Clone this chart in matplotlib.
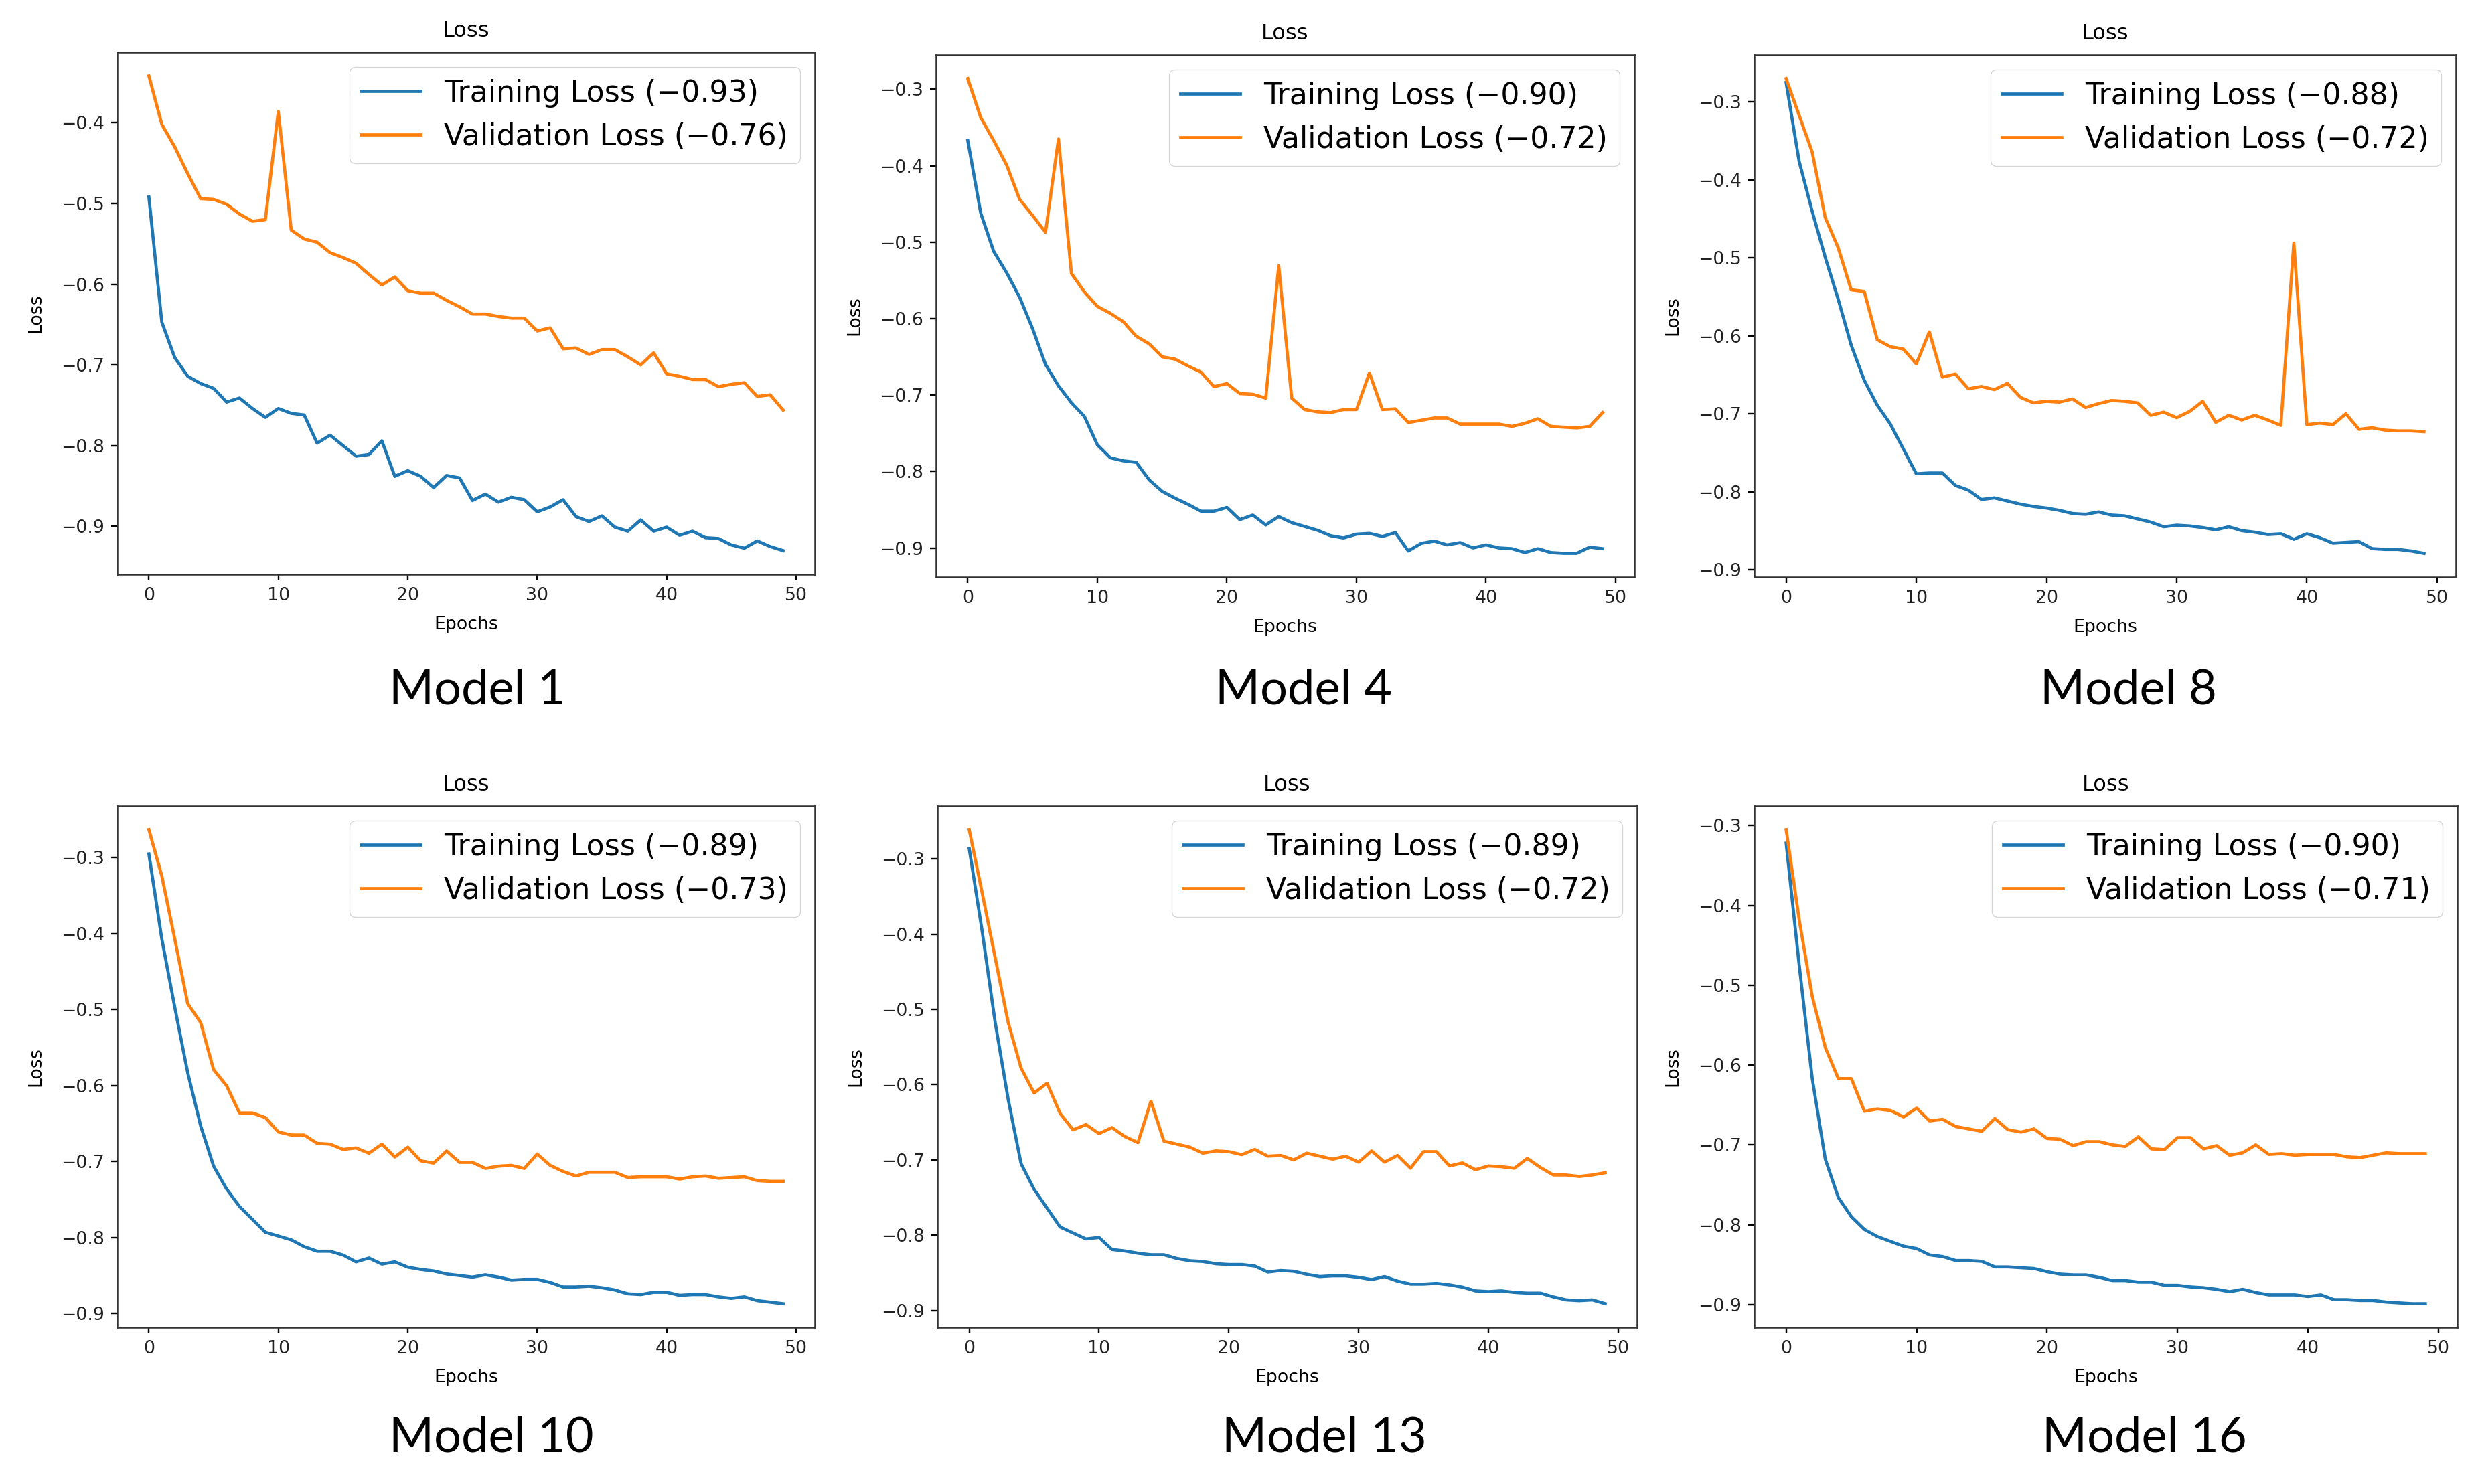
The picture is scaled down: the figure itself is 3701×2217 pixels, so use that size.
import numpy as np
import matplotlib
matplotlib.use("Agg")
import matplotlib.pyplot as plt

# Loss curves (50 epochs each)
epochs = np.arange(50)

model_names = ["Model 1", "Model 4", "Model 8", "Model 10", "Model 13", "Model 16"]

train_m1 = [-0.492, -0.647, -0.691, -0.714, -0.723, -0.729, -0.746, -0.741, -0.754, -0.765,
            -0.754, -0.760, -0.762, -0.797, -0.787, -0.800, -0.813, -0.811, -0.794, -0.838,
            -0.831, -0.838, -0.852, -0.837, -0.840, -0.868, -0.860, -0.870, -0.864, -0.867,
            -0.882, -0.876, -0.867, -0.888, -0.894, -0.887, -0.901, -0.906, -0.892, -0.906,
            -0.901, -0.911, -0.906, -0.914, -0.915, -0.923, -0.927, -0.918, -0.925, -0.930]
val_m1 = [-0.342, -0.402, -0.430, -0.463, -0.494, -0.495, -0.501, -0.513, -0.522, -0.520,
          -0.386, -0.533, -0.544, -0.548, -0.561, -0.567, -0.574, -0.588, -0.601, -0.591,
          -0.608, -0.611, -0.611, -0.620, -0.628, -0.637, -0.637, -0.640, -0.642, -0.642,
          -0.658, -0.654, -0.680, -0.679, -0.687, -0.681, -0.681, -0.690, -0.700, -0.685,
          -0.711, -0.714, -0.718, -0.718, -0.727, -0.724, -0.722, -0.739, -0.737, -0.756]

train_m4 = [-0.367, -0.462, -0.512, -0.540, -0.572, -0.613, -0.660, -0.688, -0.710, -0.728,
            -0.765, -0.782, -0.786, -0.788, -0.811, -0.826, -0.835, -0.843, -0.852, -0.852,
            -0.847, -0.863, -0.857, -0.870, -0.859, -0.867, -0.872, -0.877, -0.884, -0.887,
            -0.882, -0.881, -0.885, -0.880, -0.904, -0.894, -0.891, -0.896, -0.893, -0.900,
            -0.896, -0.900, -0.901, -0.906, -0.901, -0.906, -0.907, -0.907, -0.899, -0.901]
val_m4 = [-0.286, -0.337, -0.367, -0.399, -0.444, -0.465, -0.487, -0.365, -0.541, -0.565,
          -0.584, -0.593, -0.604, -0.623, -0.633, -0.650, -0.653, -0.662, -0.670, -0.689,
          -0.685, -0.698, -0.699, -0.704, -0.531, -0.704, -0.719, -0.722, -0.723, -0.719,
          -0.719, -0.671, -0.719, -0.718, -0.736, -0.733, -0.730, -0.730, -0.738, -0.738,
          -0.738, -0.738, -0.741, -0.737, -0.731, -0.741, -0.742, -0.743, -0.741, -0.723]

train_m8 = [-0.275, -0.376, -0.440, -0.499, -0.553, -0.612, -0.657, -0.689, -0.713, -0.745,
            -0.777, -0.776, -0.776, -0.792, -0.798, -0.810, -0.808, -0.812, -0.816, -0.819,
            -0.821, -0.824, -0.828, -0.829, -0.826, -0.830, -0.831, -0.835, -0.839, -0.845,
            -0.843, -0.844, -0.846, -0.849, -0.845, -0.850, -0.852, -0.855, -0.854, -0.861,
            -0.854, -0.859, -0.866, -0.865, -0.864, -0.873, -0.874, -0.874, -0.876, -0.879]
val_m8 = [-0.270, -0.317, -0.364, -0.448, -0.487, -0.541, -0.543, -0.605, -0.614, -0.617,
          -0.636, -0.595, -0.653, -0.649, -0.668, -0.665, -0.669, -0.661, -0.679, -0.686,
          -0.684, -0.685, -0.681, -0.692, -0.687, -0.683, -0.684, -0.686, -0.702, -0.698,
          -0.705, -0.697, -0.684, -0.711, -0.702, -0.708, -0.702, -0.708, -0.715, -0.481,
          -0.714, -0.712, -0.714, -0.700, -0.720, -0.718, -0.721, -0.722, -0.722, -0.723]

train_m10 = [-0.295, -0.407, -0.497, -0.583, -0.653, -0.706, -0.736, -0.759, -0.776, -0.793,
             -0.798, -0.803, -0.812, -0.818, -0.818, -0.823, -0.832, -0.827, -0.835, -0.832,
             -0.839, -0.842, -0.844, -0.848, -0.850, -0.852, -0.849, -0.852, -0.856, -0.855,
             -0.855, -0.859, -0.865, -0.865, -0.864, -0.866, -0.869, -0.874, -0.875, -0.872,
             -0.872, -0.876, -0.875, -0.875, -0.878, -0.880, -0.878, -0.883, -0.885, -0.887]
val_m10 = [-0.263, -0.324, -0.407, -0.492, -0.517, -0.579, -0.600, -0.636, -0.636, -0.642,
           -0.661, -0.665, -0.665, -0.676, -0.677, -0.684, -0.682, -0.689, -0.677, -0.694,
           -0.681, -0.699, -0.702, -0.686, -0.701, -0.701, -0.709, -0.706, -0.705, -0.709,
           -0.690, -0.705, -0.713, -0.719, -0.714, -0.714, -0.714, -0.721, -0.720, -0.720,
           -0.720, -0.723, -0.720, -0.719, -0.722, -0.721, -0.720, -0.725, -0.726, -0.726]

train_m13 = [-0.286, -0.396, -0.517, -0.619, -0.705, -0.739, -0.764, -0.789, -0.797, -0.805,
             -0.803, -0.819, -0.821, -0.824, -0.826, -0.826, -0.831, -0.834, -0.835, -0.838,
             -0.839, -0.839, -0.841, -0.849, -0.847, -0.848, -0.852, -0.855, -0.854, -0.854,
             -0.856, -0.859, -0.855, -0.861, -0.865, -0.865, -0.864, -0.866, -0.869, -0.874,
             -0.875, -0.874, -0.876, -0.877, -0.877, -0.882, -0.886, -0.887, -0.886, -0.891]
val_m13 = [-0.261, -0.345, -0.431, -0.517, -0.578, -0.611, -0.598, -0.638, -0.660, -0.653,
           -0.665, -0.657, -0.669, -0.677, -0.622, -0.675, -0.679, -0.683, -0.691, -0.688,
           -0.689, -0.693, -0.686, -0.695, -0.694, -0.700, -0.691, -0.695, -0.699, -0.695,
           -0.703, -0.688, -0.703, -0.694, -0.711, -0.689, -0.689, -0.708, -0.704, -0.713,
           -0.708, -0.709, -0.711, -0.698, -0.710, -0.720, -0.720, -0.722, -0.720, -0.717]

train_m16 = [-0.322, -0.475, -0.617, -0.718, -0.766, -0.790, -0.806, -0.815, -0.821, -0.827,
             -0.830, -0.838, -0.840, -0.845, -0.845, -0.846, -0.853, -0.853, -0.854, -0.855,
             -0.859, -0.862, -0.863, -0.863, -0.866, -0.870, -0.870, -0.872, -0.872, -0.876,
             -0.876, -0.878, -0.879, -0.881, -0.884, -0.881, -0.885, -0.888, -0.888, -0.888,
             -0.890, -0.888, -0.894, -0.894, -0.895, -0.895, -0.897, -0.898, -0.899, -0.899]
val_m16 = [-0.305, -0.418, -0.514, -0.578, -0.617, -0.617, -0.658, -0.655, -0.657, -0.665,
           -0.654, -0.670, -0.668, -0.677, -0.680, -0.683, -0.667, -0.681, -0.684, -0.680,
           -0.692, -0.693, -0.701, -0.696, -0.696, -0.700, -0.702, -0.690, -0.705, -0.706,
           -0.691, -0.691, -0.705, -0.701, -0.713, -0.710, -0.700, -0.712, -0.711, -0.713,
           -0.712, -0.712, -0.712, -0.715, -0.716, -0.713, -0.710, -0.711, -0.711, -0.711]

train_all = [train_m1, train_m4, train_m8, train_m10, train_m13, train_m16]
val_all = [val_m1, val_m4, val_m8, val_m10, val_m13, val_m16]

# final losses shown in the legends
train_final = ["0.93", "0.90", "0.88", "0.89", "0.89", "0.90"]
val_final = ["0.76", "0.72", "0.72", "0.73", "0.72", "0.71"]

# axes boxes in pixels (left, right, top, bottom) and caption centres
W, H = 3701, 2217
boxes = [(175, 1217, 78, 858), (1398, 2441, 82, 862), (2620, 3668, 82, 862),
         (175, 1217, 1204, 1983), (1400, 2445, 1204, 1983), (2620, 3670, 1204, 1983)]
captions_xy = [(713, 1031), (1947, 1031), (3179, 1031),
               (734, 2148), (1978, 2148), (3203, 2148)]

s = 1.93  # screenshot zoom relative to default matplotlib sizes
plt.rcParams["font.family"] = ["DejaVu Sans"]
plt.rcParams["axes.linewidth"] = 0.95 * s
plt.rcParams["axes.edgecolor"] = "#333333"
plt.rcParams["xtick.major.size"] = 3.5 * s
plt.rcParams["ytick.major.size"] = 3.5 * s
plt.rcParams["xtick.major.width"] = 0.9 * s
plt.rcParams["ytick.major.width"] = 0.9 * s
plt.rcParams["xtick.major.pad"] = 3.5 * s
plt.rcParams["ytick.major.pad"] = 3.5 * s
plt.rcParams["xtick.labelsize"] = 10 * s
plt.rcParams["ytick.labelsize"] = 10 * s
plt.rcParams["xtick.labelcolor"] = "#222222"
plt.rcParams["ytick.labelcolor"] = "#222222"
plt.rcParams["axes.labelsize"] = 10 * s
plt.rcParams["axes.titlesize"] = 12 * s
plt.rcParams["axes.titlepad"] = 6 * s + 5

fig = plt.figure(figsize=(W / 100, H / 100), dpi=100)

for i in range(6):
    l, r, t, b = boxes[i]
    ax = fig.add_axes([l / W, 1 - b / H, (r - l) / W, (b - t) / H])
    ax.plot(epochs, train_all[i], color="#1f77b4", lw=1.75 * s,
            label=f"Training Loss (\u2212{train_final[i]})")
    ax.plot(epochs, val_all[i], color="#ff7f0e", lw=1.75 * s,
            label=f"Validation Loss (\u2212{val_final[i]})")
    ax.set_title("Loss")
    ax.set_xlabel("Epochs", labelpad=4 * s + 5)
    ax.set_ylabel("Loss", labelpad=4 * s + 10)
    ax.set_xticks([0, 10, 20, 30, 40, 50])
    ax.legend(loc="upper right", fontsize=16.5 * s)

    cx, cy = captions_xy[i]
    fig.text(cx / W, 1 - cy / H, model_names[i], fontsize=52, family="Lato",
             ha="center", va="center", color="black")

fig.savefig("out.png", dpi=100)
